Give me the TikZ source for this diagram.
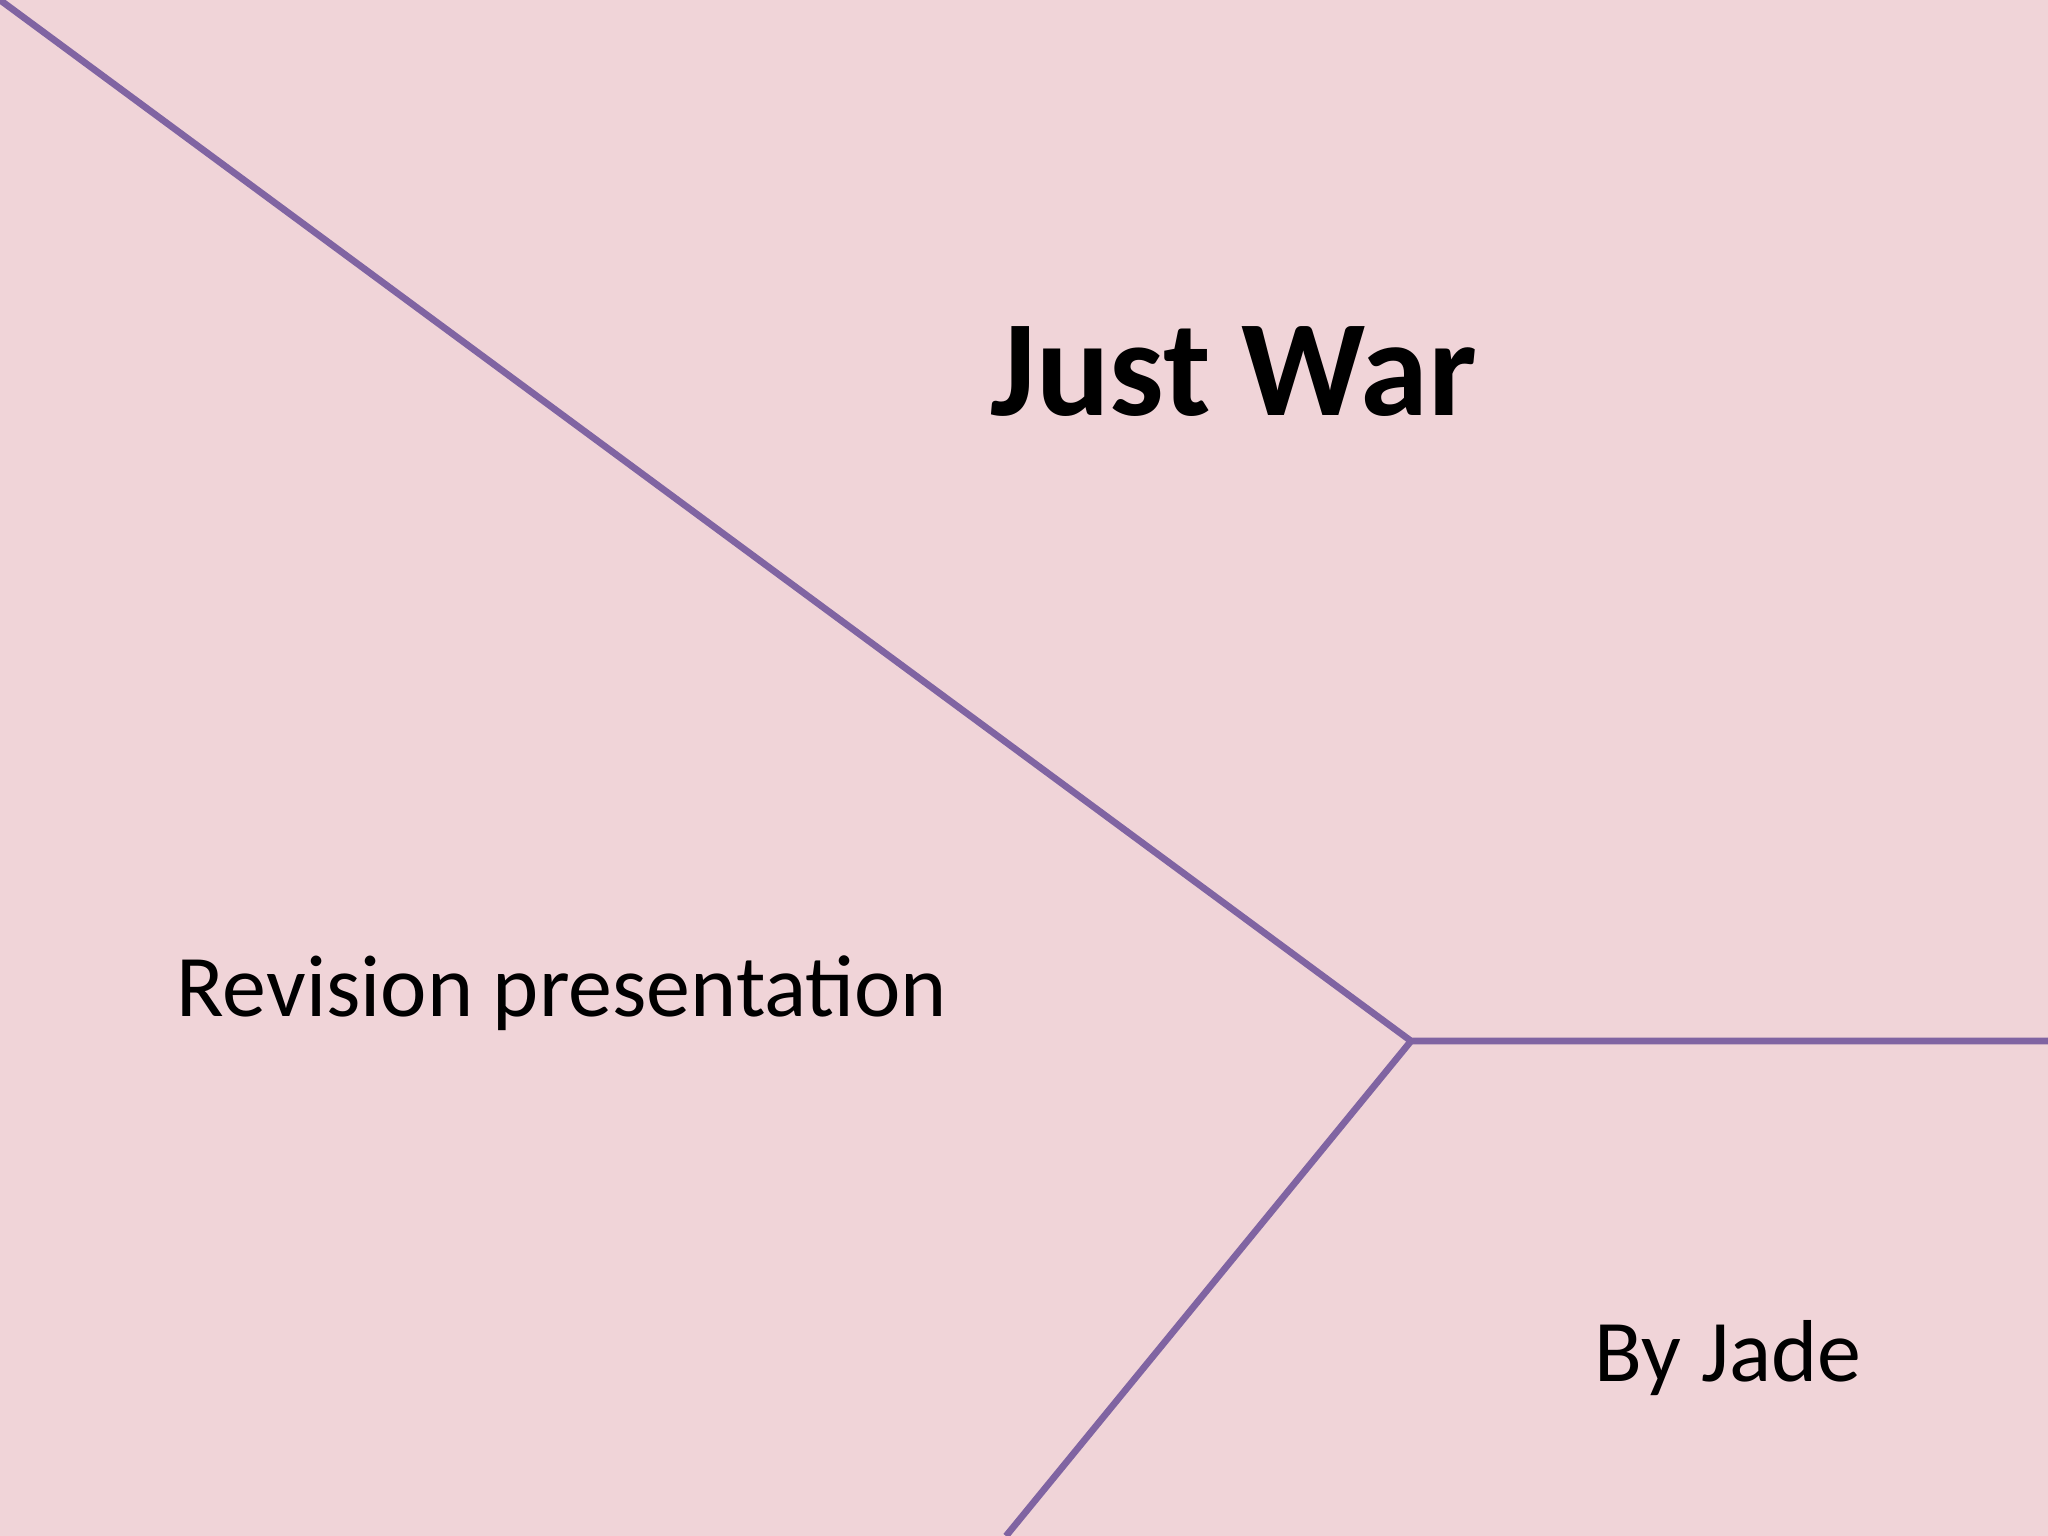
\documentclass[tikz,border=0pt]{standalone}
\usepackage{fontspec}
\setmainfont{Carlito}
\definecolor{bg}{HTML}{F0D4D8}
\definecolor{ln}{HTML}{8064A2}
\begin{document}
\begin{tikzpicture}[x=0.01cm,y=-0.01cm]
\fill[bg] (0,0) rectangle (2048,1536);
\useasboundingbox (0,0) rectangle (2048,1536);
\tikzset{divline/.style={draw=ln,line width=1.9pt}}
\coordinate (tl) at (0,0);
\coordinate (j) at (1411,1041);
\coordinate (r) at (2048,1041);
\coordinate (b) at (1006,1536);
\draw[divline] (tl) -- (j) -- (r);
\draw[divline] (j) -- (b);
\node (title) at (1234,372) {\fontsize{39}{46}\selectfont\bfseries Just War};
\node (sub) at (562,993) {\fontsize{25}{30}\selectfont Revision presentation};
\node (by) at (1728,1358) {\fontsize{25}{30}\selectfont By Jade};
\end{tikzpicture}
\end{document}
